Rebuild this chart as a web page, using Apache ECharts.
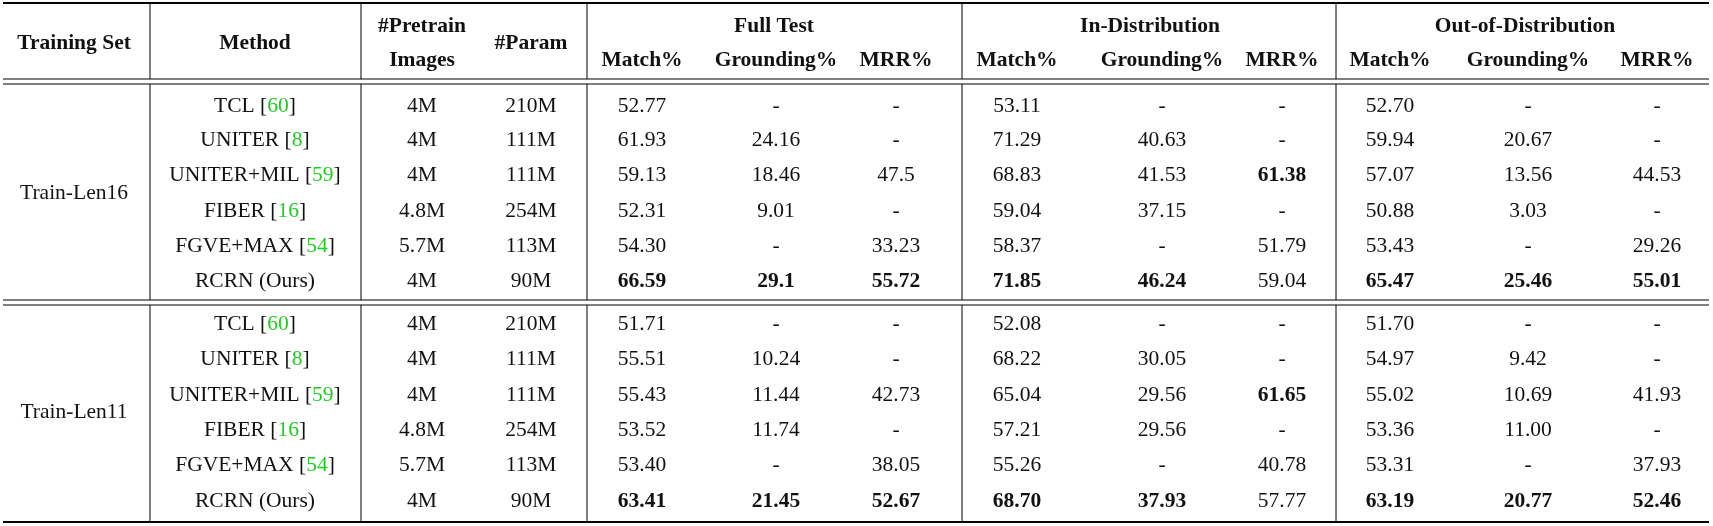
<!DOCTYPE html>
<html><head><meta charset="utf-8">
<script src="https://cdn.jsdelivr.net/npm/echarts@6/dist/echarts.min.js"></script>
<style>html,body{margin:0;padding:0;background:#fff}#c{width:1713px;height:526px}</style>
</head><body><div id="c"></div>
<script>
const groups = ["Full Test", "In-Distribution", "Out-of-Distribution"];
const subHeaders = ["Match%", "Grounding%", "MRR%"];
const trainingSets = ["Train-Len16", "Train-Len11"];
const methods = ["TCL", "UNITER", "UNITER+MIL", "FIBER", "FGVE+MAX", "RCRN (Ours)"];
const citations = ["60", "8", "59", "16", "54", ""];
const pretrain = ["4M", "4M", "4M", "4.8M", "5.7M", "4M"];
const params = ["210M", "111M", "111M", "254M", "113M", "90M"];
const len16 = [
  ["52.77","-","-","53.11","-","-","52.70","-","-"],
  ["61.93","24.16","-","71.29","40.63","-","59.94","20.67","-"],
  ["59.13","18.46","47.5","68.83","41.53","61.38","57.07","13.56","44.53"],
  ["52.31","9.01","-","59.04","37.15","-","50.88","3.03","-"],
  ["54.30","-","33.23","58.37","-","51.79","53.43","-","29.26"],
  ["66.59","29.1","55.72","71.85","46.24","59.04","65.47","25.46","55.01"]
];
const len11 = [
  ["51.71","-","-","52.08","-","-","51.70","-","-"],
  ["55.51","10.24","-","68.22","30.05","-","54.97","9.42","-"],
  ["55.43","11.44","42.73","65.04","29.56","61.65","55.02","10.69","41.93"],
  ["53.52","11.74","-","57.21","29.56","-","53.36","11.00","-"],
  ["53.40","-","38.05","55.26","-","40.78","53.31","-","37.93"],
  ["63.41","21.45","52.67","68.70","37.93","57.77","63.19","20.77","52.46"]
];
const bold16 = [[2,5],[5,0],[5,1],[5,2],[5,3],[5,4],[5,6],[5,7],[5,8]];
const bold11 = [[2,5],[5,0],[5,1],[5,2],[5,3],[5,4],[5,6],[5,7],[5,8]];

const FONT = '"Liberation Serif", "Times New Roman", serif';
const FS = 21.5;
const colX = [642,776,896,1017,1162,1282,1390,1528,1657];
const groupX = [774,1150,1525];
const rowY = [[106,140,175,211,246,281],[324,359,395,430,465,501]];
const vlines = [150,361,587,962,1336];
const L = 3, R = 1709;
const els = [];
function txt(x,y,t,b,rich){
  els.push({type:'text',x:x,y:y,style:{text:t,x:0,y:0,align:'center',verticalAlign:'middle',
    font:(b?'bold ':'')+FS+'px '+FONT,fill:'#111',rich:rich}});
}
function hl(y,w){els.push({type:'line',shape:{x1:L,y1:y,x2:R,y2:y},style:{stroke:'#000',lineWidth:w}});}
function vl(x,y1,y2){els.push({type:'line',shape:{x1:x,y1:y1,x2:x,y2:y2},style:{stroke:'#000',lineWidth:1}});}
hl(3,2.2); hl(79,1.2); hl(84,1.2); hl(300,1.2); hl(305,1.2); hl(522,2.2);
vlines.forEach(x=>{vl(x,4,79);vl(x,84,300);vl(x,305,521);});
txt(74,43,'Training Set',true); txt(255,43,'Method',true);
txt(422,26,'#Pretrain',true); txt(422,60,'Images',true); txt(531,43,'#Param',true);
groups.forEach((g,i)=>txt(groupX[i],26,g,true));
colX.forEach((x,i)=>txt(x,60,subHeaders[i%3],true));
const rich = {g:{fill:'#22cc22',font:FS+'px '+FONT},n:{fill:'#111',font:FS+'px '+FONT}};
[len16,len11].forEach((tab,gi)=>{
  const bl = gi===0?bold16:bold11;
  txt(74,(rowY[gi][2]+rowY[gi][3])/2,trainingSets[gi],false);
  tab.forEach((row,ri)=>{
    const y = rowY[gi][ri];
    const m = citations[ri] ? '{n|'+methods[ri]+' [}{g|'+citations[ri]+'}{n|]}' : '{n|'+methods[ri]+'}';
    txt(255,y,m,false,rich);
    txt(422,y,pretrain[ri],false); txt(531,y,params[ri],false);
    row.forEach((v,ci)=>txt(colX[ci],y,v,bl.some(p=>p[0]===ri&&p[1]===ci)));
  });
});
const chart = echarts.init(document.getElementById('c'));
chart.setOption({animation:false,graphic:{elements:els}});
</script></body></html>
